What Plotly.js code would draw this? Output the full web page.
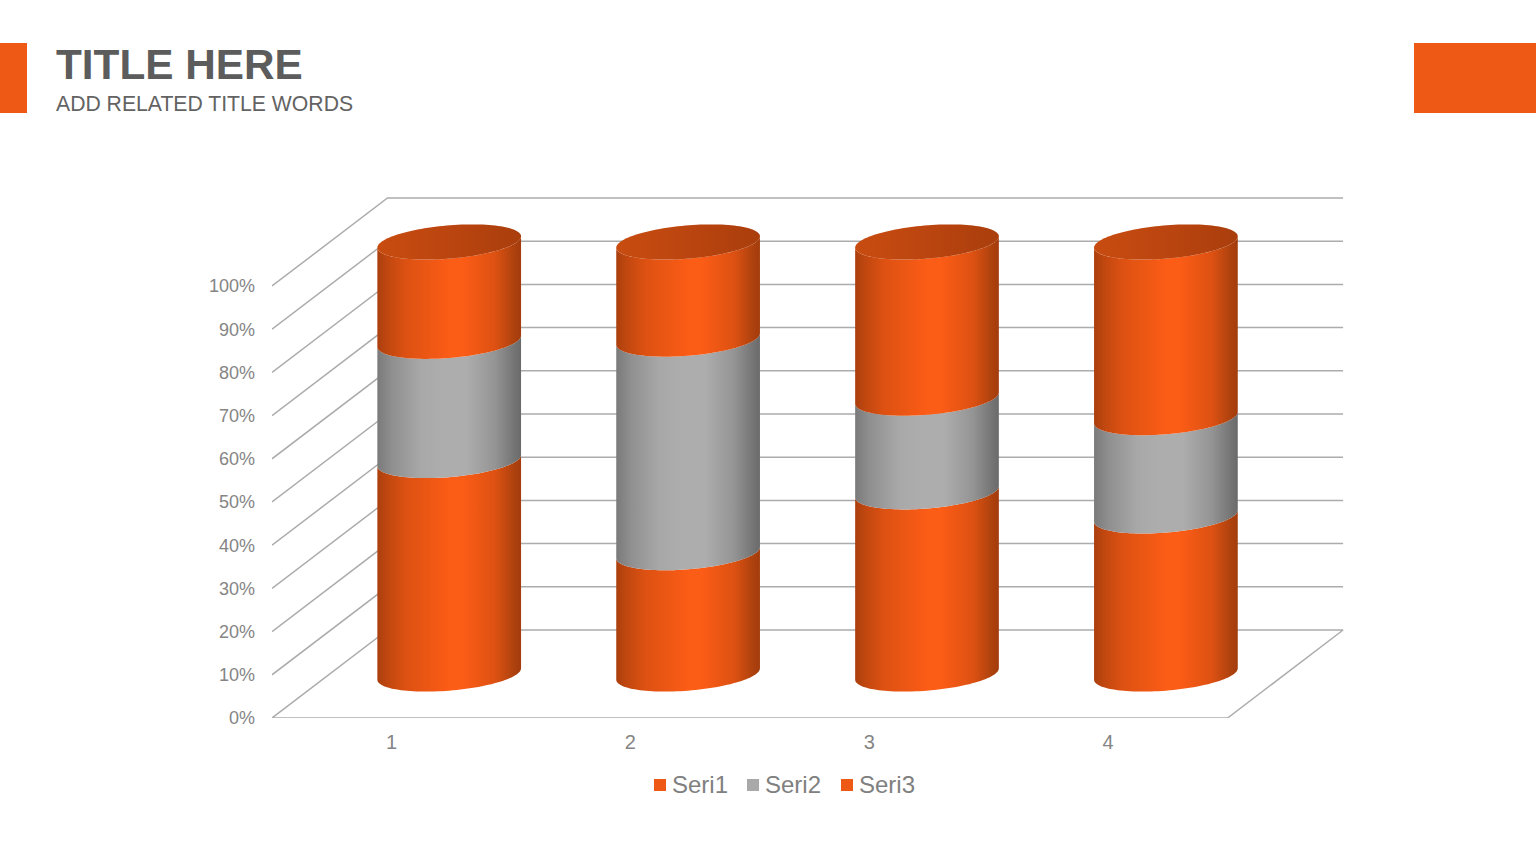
<!DOCTYPE html>
<html>
<head>
<meta charset="utf-8">
<script src="https://cdn.plot.ly/plotly-3.0.1.min.js"></script>
<style>html,body{margin:0;padding:0;background:#fff}#chart{width:1536px;height:864px}</style>
</head>
<body>
<div id="chart"></div>
<script>
var categories = [1, 2, 3, 4];
var seriesNames = ['Seri1', 'Seri2', 'Seri3'];
var seri1 = [4.3, 2.5, 3.5, 4.5];
var seri2 = [2.4, 4.4, 1.8, 2.8];
var seri3 = [2, 2, 3, 5];
var percentTicks = [0, 10, 20, 30, 40, 50, 60, 70, 80, 90, 100];
var titleText = 'TITLE HERE';
var subtitleText = 'ADD RELATED TITLE WORDS';

var W = 1536, H = 864;
var plotL = 272, plotR = 1344, plotT = 197, plotB = 718;
var pxPerCat = 238.9, pxPerPct = 4.32;
var depthPxX = 115.5, depthPxY = 88;
var DX = depthPxX / pxPerCat, DY = depthPxY / pxPerPct;
var xMin = 0.5, xMax = xMin + (plotR - plotL) / pxPerCat;
var yMax = (plotB - plotT) / pxPerPct;
var frontRight = xMin + categories.length;

var orange = '#ee5915', grey = '#a9a9a9', textGrey = '#858585';
var orangeScale = [[0,'#ab3f0d'],[0.07,'#c04710'],[0.2,'#dd5112'],[0.5,'#fb5c16'],[0.6,'#fb5c16'],[0.82,'#dd5112'],[0.95,'#ae420e'],[1,'#a33b0c']];
var greyScale = [[0,'#7a7a7a'],[0.1,'#8f8f8f'],[0.3,'#a8a8a8'],[0.45,'#adadad'],[0.62,'#adadad'],[0.82,'#949494'],[0.95,'#757575'],[1,'#6a6a6a']];
var capScale = [[0,'#c84c10'],[0.5,'#bb4510'],[1,'#a93e0c']];
var fillScales = [orangeScale, greyScale, orangeScale];
var swatches = [orange, grey, orange];

var ea = 68 / pxPerCat, ebx = 23.2 / pxPerCat, eby = 17.6 / pxPerPct;
var t0 = Math.atan2(ebx, ea);

function ellipsePoint(cx, cy, t) {
  return [cx + ea * Math.cos(t) + ebx * Math.sin(t), cy + eby * Math.sin(t)];
}
// front half of the ring at a given level, left extreme to right extreme
function frontArc(cx, cy) {
  var pts = [];
  for (var k = 0; k <= 60; k++) pts.push(ellipsePoint(cx, cy, t0 + Math.PI + Math.PI * k / 60));
  return pts;
}
function ring(cx, cy) {
  var pts = [];
  for (var k = 0; k <= 120; k++) pts.push(ellipsePoint(cx, cy, 2 * Math.PI * k / 120));
  return pts;
}

var traces = [];

// walls and floor
var gx = [], gy = [];
percentTicks.forEach(function (v) {
  gx.push(xMin, xMin + DX, xMin + DX + categories.length, null);
  gy.push(v, v + DY, v + DY, null);
});
gx.push(xMin, frontRight, frontRight + DX, null);
gy.push(0, 0, DY, null);
traces.push({x: gx, y: gy, mode: 'lines', line: {color: '#acacac', width: 1.5}, hoverinfo: 'skip', showlegend: false, cliponaxis: false});

// cylinders
var allSeries = [seri1, seri2, seri3];
categories.forEach(function (c, i) {
  var total = seri1[i] + seri2[i] + seri3[i];
  var cx = c + DX / 2, base = DY / 2, cum = 0;
  allSeries.forEach(function (s, si) {
    var lo = base + cum / total * 100;
    cum += s[i];
    var hi = base + cum / total * 100;
    var lower = frontArc(cx, lo), upper = frontArc(cx, hi).reverse();
    var pts = lower.concat(upper);
    pts.push(lower[0]);
    traces.push({
      x: pts.map(function (p) { return p[0]; }),
      y: pts.map(function (p) { return p[1]; }),
      mode: 'none', fill: 'toself',
      fillgradient: {type: 'horizontal', colorscale: fillScales[si]},
      name: seriesNames[si], showlegend: false, hoverinfo: 'name'
    });
  });
  var cap = ring(cx, base + 100);
  traces.push({
    x: cap.map(function (p) { return p[0]; }),
    y: cap.map(function (p) { return p[1]; }),
    mode: 'none', fill: 'toself',
    fillgradient: {type: 'horizontal', colorscale: capScale},
    showlegend: false, hoverinfo: 'skip'
  });
});

function pxX(p) { return (p - plotL) / (plotR - plotL); }
function pxY(p) { return (plotB - p) / (plotB - plotT); }

var shapes = [
  {type: 'rect', xref: 'paper', yref: 'paper', x0: pxX(-3), x1: pxX(27), y0: pxY(43), y1: pxY(113), fillcolor: orange, line: {width: 0}},
  {type: 'rect', xref: 'paper', yref: 'paper', x0: pxX(1414), x1: pxX(1539), y0: pxY(43), y1: pxY(113), fillcolor: orange, line: {width: 0}}
];
var annotations = [
  {xref: 'paper', yref: 'paper', x: pxX(54), y: pxY(64), xanchor: 'left', yanchor: 'middle', showarrow: false, text: '<b>' + titleText + '</b>', font: {family: 'Liberation Sans', size: 42.3, color: '#5c5c5c'}},
  {xref: 'paper', yref: 'paper', x: pxX(54), y: pxY(104), xanchor: 'left', yanchor: 'middle', showarrow: false, text: subtitleText, font: {family: 'Liberation Sans', size: 21.2, color: '#636363'}}
];
var legendSquares = [654, 747, 841];
seriesNames.forEach(function (n, i) {
  var lx = legendSquares[i];
  shapes.push({type: 'rect', xref: 'paper', yref: 'paper', x0: pxX(lx), x1: pxX(lx + 12), y0: pxY(779), y1: pxY(791), fillcolor: swatches[i], line: {width: 0}});
  annotations.push({xref: 'paper', yref: 'paper', x: pxX(lx + 16), y: pxY(784), xanchor: 'left', yanchor: 'middle', showarrow: false, text: n, font: {family: 'Liberation Sans', size: 24, color: '#808080'}});
});

var layout = {
  width: W, height: H,
  margin: {l: plotL, r: W - plotR, t: plotT, b: H - plotB, pad: 0},
  paper_bgcolor: '#ffffff', plot_bgcolor: 'rgba(0,0,0,0)',
  showlegend: false,
  xaxis: {
    range: [xMin, xMax], showgrid: false, zeroline: false, showline: false,
    tickmode: 'array', tickvals: categories, ticktext: categories.map(String),
    ticks: '', ticklabelstandoff: 10,
    tickfont: {family: 'Liberation Sans', size: 20, color: textGrey}
  },
  yaxis: {
    range: [0, yMax], showgrid: false, zeroline: false, showline: false,
    tickmode: 'array', tickvals: percentTicks, ticktext: percentTicks.map(function (v) { return v + '%'; }),
    ticks: '', ticklabelstandoff: 16,
    tickfont: {family: 'Liberation Sans', size: 18, color: textGrey}
  },
  shapes: shapes, annotations: annotations
};
Plotly.newPlot('chart', traces, layout, {displayModeBar: false, staticPlot: true});
</script>
</body>
</html>
